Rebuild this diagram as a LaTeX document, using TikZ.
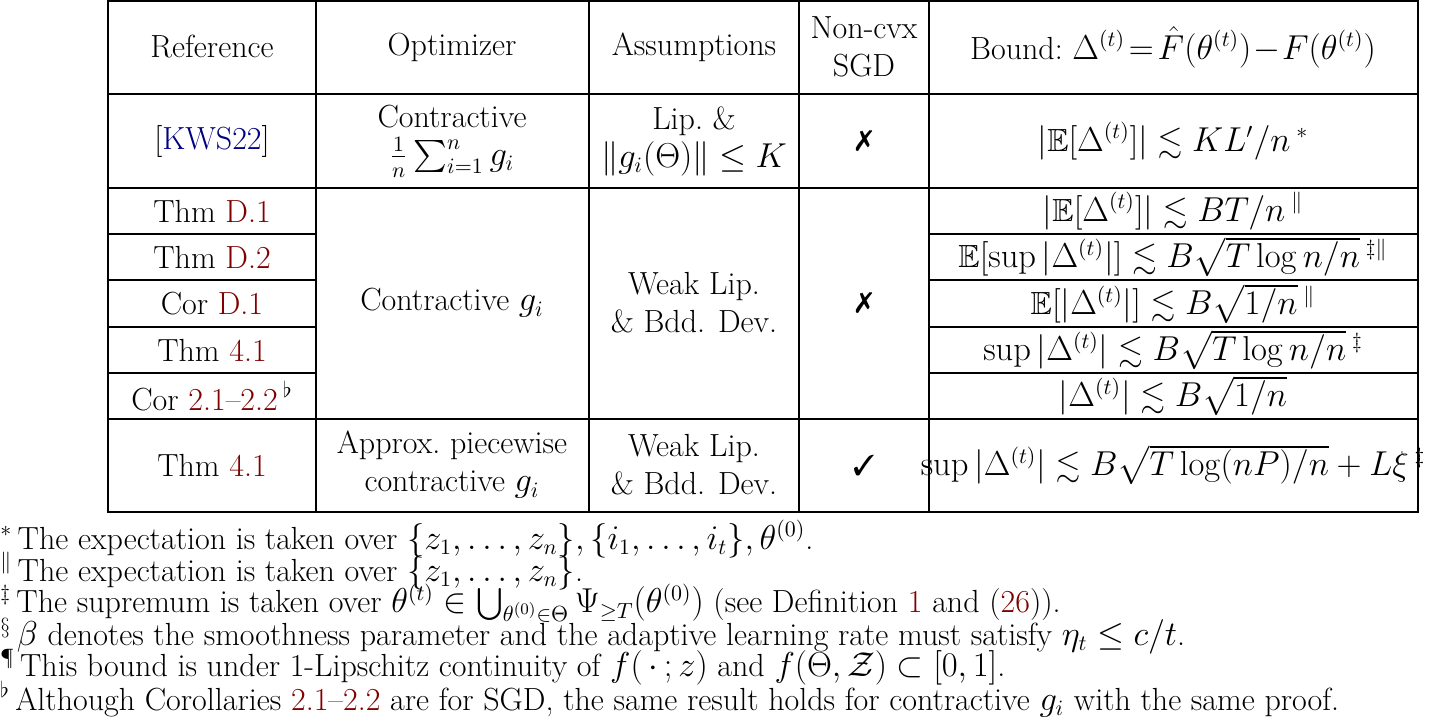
\documentclass[tikz,border=0pt]{standalone}
\usepackage{amsmath,amssymb,pifont}
\definecolor{refblue}{rgb}{0,0,0.5}
\definecolor{refred}{rgb}{0.5,0,0}
\begin{document}
\begin{tikzpicture}[x=0.5pt,y=-0.5pt,
  cell/.style={align=center,font=\fontsize{16}{19}\selectfont,inner sep=0pt},
  foot/.style={anchor=west,font=\fontsize{16}{19}\selectfont,inner sep=0pt},
  rule/.style={line width=0.8pt}]
\useasboundingbox (0,0) rectangle (1433,723);
% grid
\draw[rule] (108,1) rectangle (1418,512);
\foreach \x in {316,589,799,929} \draw[rule] (\x,1) -- (\x,512);
\foreach \y in {94,188,419} \draw[rule] (108,\y) -- (1418,\y);
\foreach \y in {234,280,327,373} {\draw[rule] (108,\y) -- (316,\y); \draw[rule] (929,\y) -- (1418,\y);}
% header
\node[cell] (h1) at (212,47) {Reference};
\node[cell] (h2) at (452,47) {Optimizer};
\node[cell] (h3) at (694,47) {Assumptions};
\node[cell] (h4) at (864,47) {Non-cvx\\SGD};
\node[cell] (h5) at (1173,47) {Bound:\ $\Delta^{(t)}\!=\!\hat F(\theta^{(t)})\!-\!F(\theta^{(t)})$};
% row KWS
\node[cell] (r1) at (212,141) {[\textcolor{refblue}{KWS22}]};
\node[cell] (o1) at (452,141) {Contractive\\$\frac{1}{n}\sum_{i=1}^n g_i$};
\node[cell] (a1) at (694,141) {Lip.\ \&\\$\|g_i(\Theta)\|\le K$};
\node[cell] (n1) at (864,141) {\Large\ding{55}};
\node[cell] (b1) at (1173,141) {$|\mathbb{E}[\Delta^{(t)}]|\lesssim KL'/n\,^{*}$};
% block
\node[cell] (r2) at (212,211) {Thm \textcolor{refred}{D.1}};
\node[cell] (r3) at (212,257) {Thm \textcolor{refred}{D.2}};
\node[cell] (r4) at (212,304) {Cor \textcolor{refred}{D.1}};
\node[cell] (r5) at (212,350) {Thm \textcolor{refred}{4.1}};
\node[cell] (r6) at (212,396) {Cor \textcolor{refred}{2.1--2.2}\,$^\flat$};
\node[cell] (o2) at (452,303) {Contractive $g_i$};
\node[cell] (a2) at (694,303) {Weak Lip.\\\& Bdd. Dev.};
\node[cell] (n2) at (864,303) {\Large\ding{55}};
\node[cell] (b2) at (1173,211) {$|\mathbb{E}[\Delta^{(t)}]|\lesssim BT/n\,^{\|}$};
\node[cell] (b3) at (1173,257) {$\mathbb{E}[\sup|\Delta^{(t)}|]\lesssim B\sqrt{T\log n/n}\,^{\ddagger\|}$};
\node[cell] (b4) at (1173,304) {$\mathbb{E}[|\Delta^{(t)}|]\lesssim B\sqrt{1/n}\,^{\|}$};
\node[cell] (b5) at (1173,350) {$\sup|\Delta^{(t)}|\lesssim B\sqrt{T\log n/n}\,^{\ddagger}$};
\node[cell] (b6) at (1173,396) {$|\Delta^{(t)}|\lesssim B\sqrt{1/n}$};
% last row
\node[cell] (r7) at (212,465) {Thm \textcolor{refred}{4.1}};
\node[cell] (o3) at (452,465) {Approx.\ piecewise\\contractive $g_i$};
\node[cell] (a3) at (694,465) {Weak Lip.\\\& Bdd. Dev.};
\node[cell] (n3) at (864,465) {\Large\ding{51}};
\node[cell] (b7) at (1173,465) {$\sup|\Delta^{(t)}|\lesssim B\sqrt{T\log(nP)/n}+L\xi\,^{\ddagger}$};
% footnotes
\node[foot] (f1) at (0,539) {$^{*}$\,The expectation is taken over $\{z_1,\dots,z_n\},\{i_1,\dots,i_t\},\theta^{(0)}$.};
\node[foot] (f2) at (0,571) {$^{\|}$\,The expectation is taken over $\{z_1,\dots,z_n\}$.};
\node[foot] (f3) at (0,603) {$^{\ddagger}$\,The supremum is taken over $\theta^{(t)}\in\bigcup_{\theta^{(0)}\in\Theta}\Psi_{\ge T}(\theta^{(0)})$ (see Definition \textcolor{refred}{1} and (\textcolor{refred}{26})).};
\node[foot] (f4) at (0,636) {$^{\S}\,\beta$ denotes the smoothness parameter and the adaptive learning rate must satisfy $\eta_t\le c/t$.};
\node[foot] (f5) at (0,667) {$^{\P}$\,This bound is under 1-Lipschitz continuity of $f(\,\cdot\,;z)$ and $f(\Theta,\mathcal{Z})\subset[0,1]$.};
\node[foot] (f6) at (0,699) {$^{\flat}$\,Although Corollaries \textcolor{refred}{2.1--2.2} are for SGD, the same result holds for contractive $g_i$ with the same proof.};
\end{tikzpicture}
\end{document}
